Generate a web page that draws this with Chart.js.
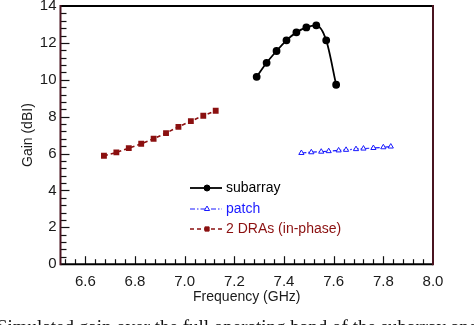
<!DOCTYPE html>
<html>
<head>
<meta charset="utf-8">
<script src="https://cdn.jsdelivr.net/npm/chart.js@4.4.1/dist/chart.umd.min.js"></script>
<style>
  html, body { margin: 0; padding: 0; background: #fff; overflow: hidden; }
  #wrap { position: relative; width: 474px; height: 325px; }
  #caption { position: absolute; left: -3px; top: 316px; white-space: nowrap;
    font-family: "Liberation Serif", "DejaVu Serif", serif; font-size: 19px; color: #111; }
</style>
</head>
<body>
<div id="wrap">
  <canvas id="gainChart" width="474" height="325"></canvas>
  <div id="caption">Simulated gain over the full operating band of the subarray and</div>
</div>
<script>
'use strict';

var subarrayFreq = [7.29, 7.33, 7.37, 7.41, 7.45, 7.49, 7.53, 7.57, 7.61];
var subarrayGain = [10.16, 10.92, 11.56, 12.14, 12.57, 12.84, 12.95, 12.14, 9.73];

var patchFreq = [7.47, 7.51, 7.55, 7.58, 7.62, 7.65, 7.69, 7.72, 7.76, 7.80, 7.83];
var patchGain = [6.03, 6.07, 6.10, 6.13, 6.17, 6.20, 6.24, 6.27, 6.30, 6.34, 6.38];

var drasFreq = [6.675, 6.725, 6.775, 6.825, 6.875, 6.925, 6.975, 7.025, 7.075, 7.125];
var drasGain = [5.88, 6.06, 6.29, 6.53, 6.80, 7.11, 7.45, 7.76, 8.05, 8.32];

var xTicks = [6.6, 6.8, 7.0, 7.2, 7.4, 7.6, 7.8, 8.0];
var yTicks = [0, 2, 4, 6, 8, 10, 12, 14];

var black = '#000000';
var blue = '#1a1aff';
var maroon = '#8b1010';
var axisMaroon = '#4a1420';

function pts(xs, ys) {
    return xs.map(function (x, i) { return { x: x, y: ys[i] }; });
}

// inward ticks + coloured frame
var framePlugin = {
    id: 'frame',
    afterDraw: function (chart) {
        var ctx = chart.ctx, a = chart.chartArea;
        var xs = chart.scales.x, ys = chart.scales.y;
        ctx.save();
        ctx.lineWidth = 1.2;
        ctx.strokeStyle = '#111';
        var v, px;
        for (v = 6.52; v < 8.0; v += 0.04) {
            px = Math.round(xs.getPixelForValue(v)) + 0.5;
            var major = Math.abs((v * 5) - Math.round(v * 5)) < 0.001;
            ctx.beginPath();
            ctx.moveTo(px, a.bottom);
            ctx.lineTo(px, a.bottom - (major ? 8 : 5));
            ctx.stroke();
        }
        for (v = 0.4; v < 14; v += 0.4) {
            px = Math.round(ys.getPixelForValue(v)) + 0.5;
            var majorY = Math.abs((v / 2) - Math.round(v / 2)) < 0.001;
            ctx.beginPath();
            ctx.moveTo(a.left, px);
            ctx.lineTo(a.left + (majorY ? 9 : 6), px);
            ctx.stroke();
        }
        ctx.lineWidth = 2;
        ctx.strokeStyle = black;
        ctx.beginPath();
        ctx.moveTo(a.left, a.top); ctx.lineTo(a.right, a.top);
        ctx.moveTo(a.left, a.bottom); ctx.lineTo(a.right, a.bottom);
        ctx.stroke();
        ctx.strokeStyle = axisMaroon;
        ctx.beginPath();
        ctx.moveTo(a.left, a.top - 1); ctx.lineTo(a.left, a.bottom + 1);
        ctx.moveTo(a.right, a.top - 1); ctx.lineTo(a.right, a.bottom + 1);
        ctx.stroke();
        ctx.restore();
    }
};

// legend box like the original figure
var legendPlugin = {
    id: 'figLegend',
    afterDraw: function (chart) {
        var ctx = chart.ctx;
        var rows = [
            { ds: 0, y: 188, color: black },
            { ds: 1, y: 209, color: blue },
            { ds: 2, y: 229, color: maroon }
        ];
        ctx.save();
        rows.forEach(function (r) {
            var d = chart.data.datasets[r.ds];
            ctx.strokeStyle = d.borderColor;
            ctx.lineWidth = d.borderWidth;
            ctx.setLineDash(d.borderDash || []);
            ctx.beginPath();
            ctx.moveTo(190, r.y);
            ctx.lineTo(222, r.y);
            ctx.stroke();
            ctx.setLineDash([]);
            ctx.lineWidth = d.pointBorderWidth || 1;
            ctx.fillStyle = d.pointBackgroundColor;
            ctx.strokeStyle = d.pointBorderColor;
            Chart.helpers.drawPoint(ctx, {
                pointStyle: d.pointStyle,
                radius: d.pointRadius,
                borderWidth: d.pointBorderWidth || 1
            }, 207, r.y);
            ctx.fillStyle = r.color;
            ctx.font = '14px "Liberation Sans", Arial, sans-serif';
            ctx.textBaseline = 'middle';
            ctx.fillText(d.label, 226, r.y);
        });
        ctx.restore();
    }
};

var font = '"Liberation Sans", Arial, sans-serif';

var gainChart = new Chart(document.getElementById('gainChart'), {
    type: 'line',
    data: {
        datasets: [
            {
                label: 'subarray',
                data: pts(subarrayFreq, subarrayGain),
                borderColor: black,
                borderWidth: 1.8,
                tension: 0.4,
                cubicInterpolationMode: 'monotone',
                pointStyle: 'circle',
                pointRadius: 3,
                pointBackgroundColor: black,
                pointBorderColor: black,
                fill: false
            },
            {
                label: 'patch',
                data: pts(patchFreq, patchGain),
                borderColor: blue,
                borderWidth: 1.2,
                borderDash: [5, 2, 1.5, 2],
                tension: 0,
                pointStyle: 'triangle',
                pointRadius: 3,
                pointBorderWidth: 1,
                pointBackgroundColor: '#ffffff',
                pointBorderColor: blue,
                fill: false
            },
            {
                label: '2 DRAs (in-phase)',
                data: pts(drasFreq, drasGain),
                borderColor: maroon,
                borderWidth: 1.6,
                borderDash: [4, 3],
                tension: 0,
                pointStyle: 'rect',
                pointRadius: 3,
                pointBackgroundColor: maroon,
                pointBorderColor: maroon,
                fill: false
            }
        ]
    },
    options: {
        responsive: false,
        animation: false,
        layout: { padding: { top: 6, right: 41, left: 20, bottom: 19 } },
        plugins: {
            legend: { display: false },
            tooltip: { enabled: false }
        },
        scales: {
            x: {
                type: 'linear',
                min: 6.5,
                max: 8.0,
                afterBuildTicks: function (axis) {
                    axis.ticks = xTicks.map(function (v) { return { value: v }; });
                },
                afterFit: function (axis) {
                    axis.height -= 5;
                },
                grid: { display: false, drawTicks: false, tickLength: 0 },
                border: { display: false },
                ticks: {
                    padding: 9,
                    color: '#1a1a1a',
                    font: { family: font, size: 15 },
                    callback: function (v) { return v.toFixed(1); }
                },
                title: {
                    display: true,
                    text: 'Frequency (GHz)',
                    color: '#1a1a1a',
                    padding: { top: -6, bottom: 0 },
                    font: { family: font, size: 14 }
                }
            },
            y: {
                min: 0,
                max: 14,
                afterBuildTicks: function (axis) {
                    axis.ticks = yTicks.map(function (v) { return { value: v }; });
                },
                afterFit: function (axis) {
                    axis.paddingTop = 0;
                    axis.paddingBottom = 0;
                },
                grid: { display: false, drawTicks: false, tickLength: 0 },
                border: { display: false },
                ticks: {
                    padding: 4,
                    color: '#1a1a1a',
                    font: { family: font, size: 15 }
                },
                title: {
                    display: true,
                    text: 'Gain (dBI)',
                    color: '#1a1a1a',
                    padding: { top: 0, bottom: -1 },
                    font: { family: font, size: 14 }
                }
            }
        }
    },
    plugins: [framePlugin, legendPlugin]
});
</script>
</body>
</html>
